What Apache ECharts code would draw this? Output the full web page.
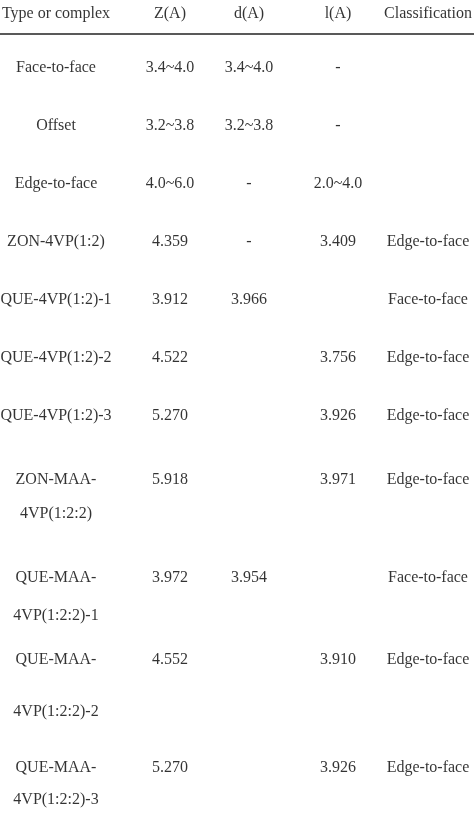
<!DOCTYPE html>
<html>
<head>
<meta charset="UTF-8">
<script src="https://cdn.jsdelivr.net/npm/echarts@6/dist/echarts.min.js"></script>
<style>html,body{margin:0;background:#fff}#c{width:474px;height:823px}</style>
</head>
<body>
<div id="c"></div>
<script>
var headers = ['Type or complex', 'Z(A)', 'd(A)', 'l(A)', 'Classification'];
var colX = [56, 170, 249, 338, 428];
var rowY = [68, 126, 184, 242, 300, 358, 416, 480, 578, 660, 768];
var names = ['Face-to-face', 'Offset', 'Edge-to-face', 'ZON-4VP(1:2)', 'QUE-4VP(1:2)-1',
  'QUE-4VP(1:2)-2', 'QUE-4VP(1:2)-3', 'ZON-MAA-', 'QUE-MAA-', 'QUE-MAA-', 'QUE-MAA-'];
var names2 = ['', '', '', '', '', '', '', '4VP(1:2:2)', '4VP(1:2:2)-1', '4VP(1:2:2)-2', '4VP(1:2:2)-3'];
var line2Y = [0, 0, 0, 0, 0, 0, 0, 514, 616, 712, 800];
var zVals = ['3.4~4.0', '3.2~3.8', '4.0~6.0', '4.359', '3.912', '4.522', '5.270', '5.918', '3.972', '4.552', '5.270'];
var dVals = ['3.4~4.0', '3.2~3.8', '-', '-', '3.966', '', '', '', '3.954', '', ''];
var lVals = ['-', '-', '2.0~4.0', '3.409', '', '3.756', '3.926', '3.971', '', '3.910', '3.926'];
var cls = ['', '', '', 'Edge-to-face', 'Face-to-face', 'Edge-to-face', 'Edge-to-face', 'Edge-to-face',
  'Face-to-face', 'Edge-to-face', 'Edge-to-face'];

var cells = [];
headers.forEach(function (h, i) { cells.push([colX[i], 14, h]); });
var cols = [names, zVals, dVals, lVals, cls];
rowY.forEach(function (y, r) {
  cols.forEach(function (col, c) { if (col[r]) cells.push([colX[c], y, col[r]]); });
  if (names2[r]) cells.push([colX[0], line2Y[r], names2[r]]);
});

var chart = echarts.init(document.getElementById('c'));
chart.setOption({
  animation: false,
  grid: { left: 0, right: 0, top: 0, bottom: 0 },
  xAxis: { type: 'value', min: 0, max: 474, show: false },
  yAxis: { type: 'value', min: 0, max: 823, inverse: true, show: false },
  series: [
    {
      type: 'scatter', symbolSize: 0, data: cells,
      label: {
        show: true, position: 'inside', formatter: function (p) { return p.data[2]; },
        fontFamily: 'Liberation Serif', fontSize: 16, color: '#000'
      }
    },
    {
      type: 'line', symbol: 'none', data: [[0, 34], [474, 34]],
      lineStyle: { color: '#222', width: 1.3 }
    }
  ]
});
</script>
</body>
</html>
